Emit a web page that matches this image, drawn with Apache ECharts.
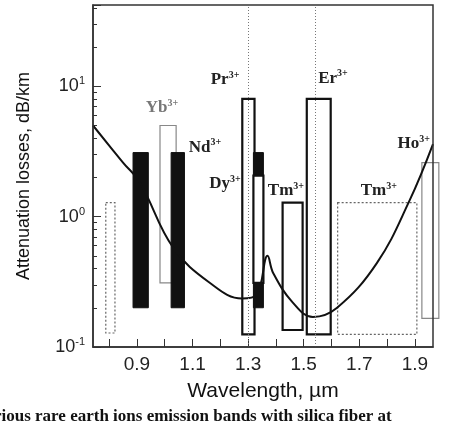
<!DOCTYPE html><html><head><meta charset="utf-8"><script src="https://cdn.jsdelivr.net/npm/echarts@6/dist/echarts.min.js"></script></head><body style="margin:0;background:#fff"><div id="c" style="width:474px;height:426px"></div><script>
const curveX=[0.742,0.85,0.911,1.03,1.163,1.278,1.33,1.37,1.39,1.46,1.533,1.62,1.763,1.88,1.965];
const curveY=[5.0,2.6,1.82,0.58,0.31,0.236,0.25,0.5,0.37,0.22,0.17,0.2,0.44,1.32,3.6];
// rect: x0,x1,y0,y1,kind
const rectX0=[0.788,0.886,0.983,1.023,1.279,1.319,1.319,1.319,1.424,1.511,1.622,1.925];
const rectX1=[0.821,0.941,1.041,1.071,1.323,1.355,1.355,1.355,1.496,1.597,1.907,1.986];
const rectY0=[0.128,0.2,0.31,0.2,0.125,2.06,0.31,0.2,0.135,0.125,0.125,0.166];
const rectY1=[1.28,3.1,5.0,3.1,8.0,3.1,2.06,0.31,1.28,8.0,1.28,2.6];
const rectKind=['dash','black','gray','black','open','black','open','black','open','open','dash','gray'];
const labels=[['Yb','#777',0.99,6.8],['Nd','#222',1.145,3.4],['Pr','#222',1.217,11.2],['Dy','#222',1.217,1.78],['Tm','#222',1.436,1.58],['Er','#222',1.605,11.5],['Ho','#222',1.896,3.6],['Tm','#222',1.77,1.58]];
const vlines=[1.30,1.54];
const rects=rectX0.map((v,i)=>[v,rectX1[i],rectY0[i],rectY1[i],i]);
const ch=echarts.init(document.getElementById('c'));
ch.setOption({animation:false,
grid:{left:93,right:41,top:5,bottom:79},
xAxis:{type:'value',min:0.742,max:1.965,interval:0.2,
 axisLabel:{customValues:[0.9,1.1,1.3,1.5,1.7,1.9],formatter:v=>v.toFixed(1),fontSize:19,color:'#222',fontFamily:'Liberation Sans'},
 axisTick:{inside:true,length:8,customValues:[0.8,0.9,1.0,1.1,1.2,1.3,1.4,1.5,1.6,1.7,1.8,1.9],lineStyle:{color:'#333'}},
 axisLine:{lineStyle:{color:'#333',width:1.5}},splitLine:{show:false},
 name:'Wavelength, µm',nameLocation:'middle',nameGap:34,nameTextStyle:{fontSize:21,color:'#111',fontFamily:'Liberation Sans'}},
yAxis:{type:'log',logBase:10,min:0.1,max:42,
 axisLabel:{formatter:v=>{const e=Math.round(Math.log10(v));if(e>1)return '';return '{b|10}{s|'+e+'}';},rich:{b:{fontSize:18,color:'#222',fontFamily:'Liberation Sans'},s:{fontSize:11,color:'#222',verticalAlign:'top',padding:[0,0,10,0]}}},
 axisTick:{inside:true,length:8,lineStyle:{color:'#333'}},minorTick:{show:true,splitNumber:9,length:4,lineStyle:{color:'#333'}},
 axisLine:{show:true,lineStyle:{color:'#333',width:1.5}},splitLine:{show:false},
 name:'Attenuation losses, dB/km',nameLocation:'middle',nameGap:60,nameTextStyle:{fontSize:18,color:'#111',fontFamily:'Liberation Sans'}},
graphic:[{type:'rect',shape:{x:93,y:5,width:340,height:342},style:{fill:'none',stroke:'#333',lineWidth:1.5},z:10},
 {type:'text',left:-38,top:408,style:{text:'4.Various rare earth ions emission bands with silica fiber at',font:'bold 17px "Liberation Serif"',fill:'#111'}}],
series:[
{type:'custom',clip:false,data:rects,renderItem:(p,api)=>{
 const a=api.coord([api.value(0),api.value(3)]),b=api.coord([api.value(1),api.value(2)]);
 const k=rectKind[api.value(4)];
 const st={fill:k==='black'?'#111':'#fff',stroke:k==='gray'?'#888':(k==='dash'?'#666':'#111'),lineWidth:k==='open'?2.2:(k==='black'?1:1.2),lineDash:k==='dash'?[2,2]:null};
 return {type:'rect',shape:{x:a[0],y:a[1],width:b[0]-a[0],height:b[1]-a[1]},style:st};}},
{type:'line',data:vlines.map(v=>[v,0.1]),symbol:'none',lineStyle:{width:0},
 markLine:{symbol:'none',silent:true,label:{show:false},lineStyle:{color:'#777',type:[1,2],width:1},data:vlines.map(v=>({xAxis:v}))},z:5},
{type:'line',data:curveX.map((x,i)=>[x,curveY[i]]),smooth:0.4,symbol:'none',lineStyle:{color:'#111',width:2},z:4},
{type:'custom',data:labels.map((l,i)=>[l[2],l[3],i]),z:6,renderItem:(p,api)=>{
 const c=api.coord([api.value(0),api.value(1)]);const l=labels[api.value(2)];
 return {type:'text',x:c[0],y:c[1],style:{text:'{b|'+l[0]+'}{s|3+}',align:'center',verticalAlign:'middle',rich:{b:{font:'bold 17px "Liberation Serif"',fill:l[1]},s:{font:'bold 10px "Liberation Serif"',fill:l[1],verticalAlign:'top',padding:[0,0,9,0]}}}};}}
]});
</script></body></html>
